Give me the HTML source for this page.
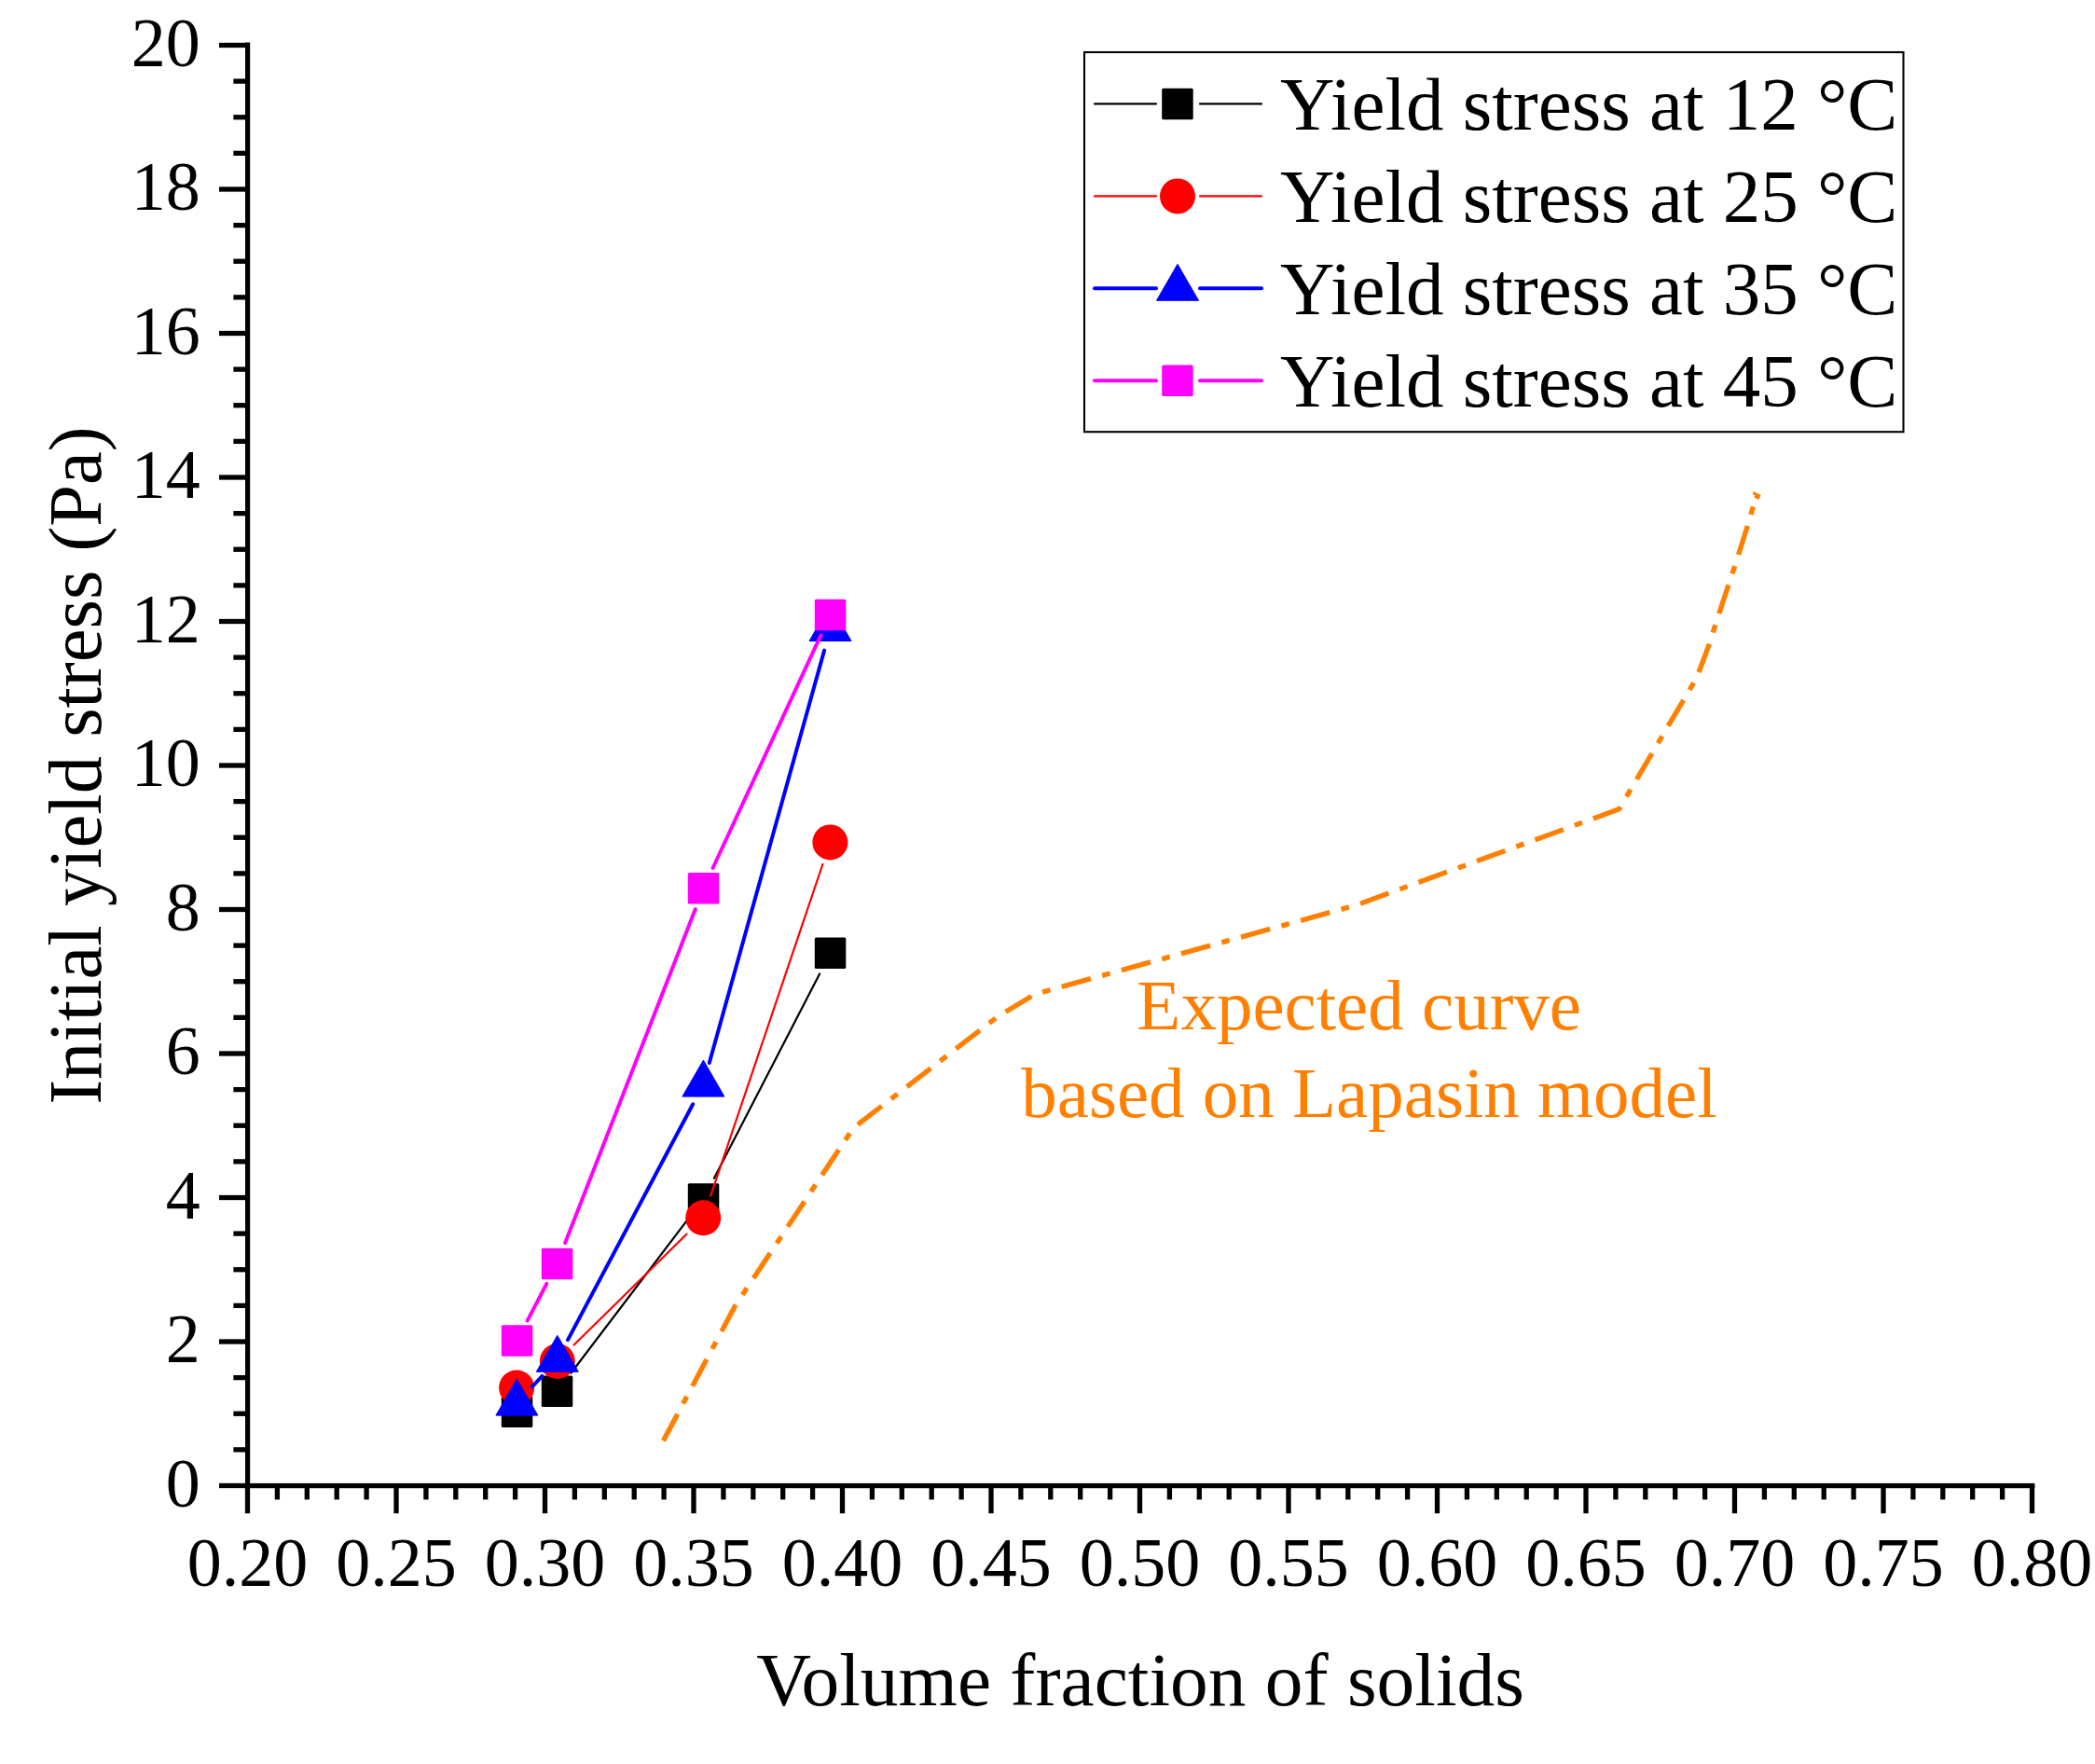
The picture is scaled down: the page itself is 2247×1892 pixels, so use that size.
<!DOCTYPE html>
<html><head><meta charset="utf-8"><title>Initial yield stress vs volume fraction</title><style>
html,body{margin:0;padding:0;background:#fff;width:2247px;height:1892px;overflow:hidden}
svg{display:block}
text{font-family:"Liberation Serif","Times New Roman",serif}
</style></head><body>
<svg width="2247" height="1892" viewBox="0 0 2247 1892">
<rect width="2247" height="1892" fill="#fff"/>
<path d="M711.2 1545.8 L788.3 1400.9 L915.0 1210.1 L1070.0 1090.5 L1110.0 1066.3 L1454.0 971.0 L1736.5 867.9 L1820.0 726.6 L1832.8 692.2 L1843.2 659.8 L1853.4 629.1 L1864.2 596.2 L1873.9 565.5 L1880.5 543.0 L1882.5 531.0 L1887.5 533.5" fill="none" stroke="#FF8000" stroke-width="5.4" stroke-dasharray="32.4 12.7 8.7 12.7" stroke-dashoffset="-0.5" stroke-linejoin="miter"/>
<text x="1457.7" y="1103.9" font-size="77" fill="#FF8000" text-anchor="middle">Expected curve</text>
<text x="1468.4" y="1198.2" font-size="77" fill="#FF8000" text-anchor="middle">based on Lapasin model</text>
<g stroke="#000000" stroke-width="2.2" stroke-linecap="round"><line x1="612.6" y1="1472.5" x2="739.4" y2="1305.7"/><line x1="765.9" y1="1263.8" x2="879.1" y2="1044.5"/></g>
<rect x="537.8" y="1497.5" width="33.5" height="33.5" rx="1.5" fill="#000000"/><rect x="580.8" y="1475.5" width="33.5" height="33.5" rx="1.5" fill="#000000"/><rect x="737.8" y="1269.2" width="33.5" height="33.5" rx="1.5" fill="#000000"/><rect x="873.8" y="1005.6" width="33.5" height="33.5" rx="1.5" fill="#000000"/>
<g stroke="#FF0000" stroke-width="2.2" stroke-linecap="round"><line x1="615.6" y1="1442.5" x2="736.4" y2="1323.7"/><line x1="762.2" y1="1282.6" x2="882.4" y2="927.0"/></g>
<circle cx="554.1" cy="1488.5" r="19" fill="#FF0000"/><circle cx="597.8" cy="1460.0" r="19" fill="#FF0000"/><circle cx="754.2" cy="1306.2" r="19" fill="#FF0000"/><circle cx="890.4" cy="903.4" r="19" fill="#FF0000"/>
<g stroke="#0000FF" stroke-width="4.0" stroke-linecap="round"><line x1="570.7" y1="1487.5" x2="581.5" y2="1475.9"/><line x1="609.0" y1="1437.1" x2="743.2" y2="1184.3"/><line x1="760.8" y1="1140.0" x2="884.1" y2="697.6"/></g>
<polygon points="554.4,1479.1 576.9,1518.1 531.9,1518.1" fill="#0000FF" stroke="#0000FF" stroke-width="1" stroke-linejoin="round"/><polygon points="597.8,1432.3 620.3,1471.3 575.3,1471.3" fill="#0000FF" stroke="#0000FF" stroke-width="1" stroke-linejoin="round"/><polygon points="754.4,1137.1 776.9,1176.1 731.9,1176.1" fill="#0000FF" stroke="#0000FF" stroke-width="1" stroke-linejoin="round"/><polygon points="890.5,648.5 913.0,687.5 868.0,687.5" fill="#0000FF" stroke="#0000FF" stroke-width="1" stroke-linejoin="round"/>
<g stroke="#FF00FF" stroke-width="4.0" stroke-linecap="round"><line x1="565.6" y1="1416.6" x2="586.4" y2="1376.8"/><line x1="606.2" y1="1333.1" x2="745.8" y2="975.2"/><line x1="764.6" y1="931.0" x2="880.4" y2="681.3"/></g>
<rect x="537.8" y="1421.2" width="33.5" height="33.5" rx="1.5" fill="#FF00FF"/><rect x="580.8" y="1338.8" width="33.5" height="33.5" rx="1.5" fill="#FF00FF"/><rect x="737.8" y="936.0" width="33.5" height="33.5" rx="1.5" fill="#FF00FF"/><rect x="873.8" y="642.8" width="33.5" height="33.5" rx="1.5" fill="#FF00FF"/>
<g fill="#000">
<rect x="263" y="45.5" width="5.2" height="1550.7"/>
<rect x="263" y="1590.9" width="1919.4" height="5.3"/>
<rect x="235" y="1590.85" width="30" height="5.3"/><rect x="250.4" y="1552.22" width="15" height="5.3"/><rect x="250.4" y="1513.60" width="15" height="5.3"/><rect x="250.4" y="1474.97" width="15" height="5.3"/><rect x="235" y="1436.35" width="30" height="5.3"/><rect x="250.4" y="1397.72" width="15" height="5.3"/><rect x="250.4" y="1359.10" width="15" height="5.3"/><rect x="250.4" y="1320.47" width="15" height="5.3"/><rect x="235" y="1281.85" width="30" height="5.3"/><rect x="250.4" y="1243.22" width="15" height="5.3"/><rect x="250.4" y="1204.60" width="15" height="5.3"/><rect x="250.4" y="1165.97" width="15" height="5.3"/><rect x="235" y="1127.35" width="30" height="5.3"/><rect x="250.4" y="1088.72" width="15" height="5.3"/><rect x="250.4" y="1050.10" width="15" height="5.3"/><rect x="250.4" y="1011.48" width="15" height="5.3"/><rect x="235" y="972.85" width="30" height="5.3"/><rect x="250.4" y="934.23" width="15" height="5.3"/><rect x="250.4" y="895.60" width="15" height="5.3"/><rect x="250.4" y="856.98" width="15" height="5.3"/><rect x="235" y="818.35" width="30" height="5.3"/><rect x="250.4" y="779.73" width="15" height="5.3"/><rect x="250.4" y="741.10" width="15" height="5.3"/><rect x="250.4" y="702.48" width="15" height="5.3"/><rect x="235" y="663.85" width="30" height="5.3"/><rect x="250.4" y="625.23" width="15" height="5.3"/><rect x="250.4" y="586.60" width="15" height="5.3"/><rect x="250.4" y="547.98" width="15" height="5.3"/><rect x="235" y="509.35" width="30" height="5.3"/><rect x="250.4" y="470.73" width="15" height="5.3"/><rect x="250.4" y="432.10" width="15" height="5.3"/><rect x="250.4" y="393.48" width="15" height="5.3"/><rect x="235" y="354.85" width="30" height="5.3"/><rect x="250.4" y="316.23" width="15" height="5.3"/><rect x="250.4" y="277.60" width="15" height="5.3"/><rect x="250.4" y="238.97" width="15" height="5.3"/><rect x="235" y="200.35" width="30" height="5.3"/><rect x="250.4" y="161.72" width="15" height="5.3"/><rect x="250.4" y="123.10" width="15" height="5.3"/><rect x="250.4" y="84.47" width="15" height="5.3"/><rect x="235" y="45.85" width="30" height="5.3"/>
<rect x="262.85" y="1593" width="5.3" height="30.2"/><rect x="294.75" y="1593" width="5.3" height="15.4"/><rect x="326.65" y="1593" width="5.3" height="15.4"/><rect x="358.55" y="1593" width="5.3" height="15.4"/><rect x="390.45" y="1593" width="5.3" height="15.4"/><rect x="422.35" y="1593" width="5.3" height="30.2"/><rect x="454.25" y="1593" width="5.3" height="15.4"/><rect x="486.15" y="1593" width="5.3" height="15.4"/><rect x="518.05" y="1593" width="5.3" height="15.4"/><rect x="549.95" y="1593" width="5.3" height="15.4"/><rect x="581.85" y="1593" width="5.3" height="30.2"/><rect x="613.75" y="1593" width="5.3" height="15.4"/><rect x="645.65" y="1593" width="5.3" height="15.4"/><rect x="677.55" y="1593" width="5.3" height="15.4"/><rect x="709.45" y="1593" width="5.3" height="15.4"/><rect x="741.35" y="1593" width="5.3" height="30.2"/><rect x="773.25" y="1593" width="5.3" height="15.4"/><rect x="805.15" y="1593" width="5.3" height="15.4"/><rect x="837.05" y="1593" width="5.3" height="15.4"/><rect x="868.95" y="1593" width="5.3" height="15.4"/><rect x="900.85" y="1593" width="5.3" height="30.2"/><rect x="932.75" y="1593" width="5.3" height="15.4"/><rect x="964.65" y="1593" width="5.3" height="15.4"/><rect x="996.55" y="1593" width="5.3" height="15.4"/><rect x="1028.45" y="1593" width="5.3" height="15.4"/><rect x="1060.35" y="1593" width="5.3" height="30.2"/><rect x="1092.25" y="1593" width="5.3" height="15.4"/><rect x="1124.15" y="1593" width="5.3" height="15.4"/><rect x="1156.05" y="1593" width="5.3" height="15.4"/><rect x="1187.95" y="1593" width="5.3" height="15.4"/><rect x="1219.85" y="1593" width="5.3" height="30.2"/><rect x="1251.75" y="1593" width="5.3" height="15.4"/><rect x="1283.65" y="1593" width="5.3" height="15.4"/><rect x="1315.55" y="1593" width="5.3" height="15.4"/><rect x="1347.45" y="1593" width="5.3" height="15.4"/><rect x="1379.35" y="1593" width="5.3" height="30.2"/><rect x="1411.25" y="1593" width="5.3" height="15.4"/><rect x="1443.15" y="1593" width="5.3" height="15.4"/><rect x="1475.05" y="1593" width="5.3" height="15.4"/><rect x="1506.95" y="1593" width="5.3" height="15.4"/><rect x="1538.85" y="1593" width="5.3" height="30.2"/><rect x="1570.75" y="1593" width="5.3" height="15.4"/><rect x="1602.65" y="1593" width="5.3" height="15.4"/><rect x="1634.55" y="1593" width="5.3" height="15.4"/><rect x="1666.45" y="1593" width="5.3" height="15.4"/><rect x="1698.35" y="1593" width="5.3" height="30.2"/><rect x="1730.25" y="1593" width="5.3" height="15.4"/><rect x="1762.15" y="1593" width="5.3" height="15.4"/><rect x="1794.05" y="1593" width="5.3" height="15.4"/><rect x="1825.95" y="1593" width="5.3" height="15.4"/><rect x="1857.85" y="1593" width="5.3" height="30.2"/><rect x="1889.75" y="1593" width="5.3" height="15.4"/><rect x="1921.65" y="1593" width="5.3" height="15.4"/><rect x="1953.55" y="1593" width="5.3" height="15.4"/><rect x="1985.45" y="1593" width="5.3" height="15.4"/><rect x="2017.35" y="1593" width="5.3" height="30.2"/><rect x="2049.25" y="1593" width="5.3" height="15.4"/><rect x="2081.15" y="1593" width="5.3" height="15.4"/><rect x="2113.05" y="1593" width="5.3" height="15.4"/><rect x="2144.95" y="1593" width="5.3" height="15.4"/><rect x="2176.85" y="1593" width="5.3" height="30.2"/>
</g>
<g font-size="74" fill="#000">
<text x="214.7" y="1615.5" text-anchor="end">0</text><text x="214.7" y="1461.0" text-anchor="end">2</text><text x="214.7" y="1306.5" text-anchor="end">4</text><text x="214.7" y="1152.0" text-anchor="end">6</text><text x="214.7" y="997.5" text-anchor="end">8</text><text x="214.7" y="843.0" text-anchor="end">10</text><text x="214.7" y="688.5" text-anchor="end">12</text><text x="214.7" y="534.0" text-anchor="end">14</text><text x="214.7" y="379.5" text-anchor="end">16</text><text x="214.7" y="225.0" text-anchor="end">18</text><text x="214.7" y="70.5" text-anchor="end">20</text>
<text x="265.5" y="1701" text-anchor="middle">0.20</text><text x="425.0" y="1701" text-anchor="middle">0.25</text><text x="584.5" y="1701" text-anchor="middle">0.30</text><text x="744.0" y="1701" text-anchor="middle">0.35</text><text x="903.5" y="1701" text-anchor="middle">0.40</text><text x="1063.0" y="1701" text-anchor="middle">0.45</text><text x="1222.5" y="1701" text-anchor="middle">0.50</text><text x="1382.0" y="1701" text-anchor="middle">0.55</text><text x="1541.5" y="1701" text-anchor="middle">0.60</text><text x="1701.0" y="1701" text-anchor="middle">0.65</text><text x="1860.5" y="1701" text-anchor="middle">0.70</text><text x="2020.0" y="1701" text-anchor="middle">0.75</text><text x="2179.5" y="1701" text-anchor="middle">0.80</text>
</g>
<text x="1223.1" y="1828.7" font-size="81.4" text-anchor="middle">Volume fraction of solids</text>
<text transform="translate(108 821) rotate(-90)" x="0" y="0" font-size="80.6" text-anchor="middle">Initial yield stress (Pa)</text>
<rect x="1163" y="56" width="878.5" height="407.2" fill="none" stroke="#000" stroke-width="2.1"/>
<g stroke="#000000" stroke-width="2.2" stroke-linecap="round"><line x1="1174" y1="111.4" x2="1240" y2="111.4"/><line x1="1287" y1="111.4" x2="1353" y2="111.4"/></g><rect x="1246.2" y="94.7" width="33.5" height="33.5" rx="1.5" fill="#000000"/><text x="1373" y="139.0" font-size="81" fill="#000">Yield stress at 12 °C</text>
<g stroke="#FF0000" stroke-width="2.2" stroke-linecap="round"><line x1="1174" y1="210.4" x2="1240" y2="210.4"/><line x1="1287" y1="210.4" x2="1353" y2="210.4"/></g><circle cx="1263.0" cy="210.4" r="19" fill="#FF0000"/><text x="1373" y="238.0" font-size="81" fill="#000">Yield stress at 25 °C</text>
<g stroke="#0000FF" stroke-width="4.0" stroke-linecap="round"><line x1="1174" y1="309.3" x2="1240" y2="309.3"/><line x1="1287" y1="309.3" x2="1353" y2="309.3"/></g><polygon points="1263.0,283.3 1285.5,322.3 1240.5,322.3" fill="#0000FF" stroke="#0000FF" stroke-width="1" stroke-linejoin="round"/><text x="1373" y="336.9" font-size="81" fill="#000">Yield stress at 35 °C</text>
<g stroke="#FF00FF" stroke-width="4.0" stroke-linecap="round"><line x1="1174" y1="408.2" x2="1240" y2="408.2"/><line x1="1287" y1="408.2" x2="1353" y2="408.2"/></g><rect x="1246.2" y="391.5" width="33.5" height="33.5" rx="1.5" fill="#FF00FF"/><text x="1373" y="435.9" font-size="81" fill="#000">Yield stress at 45 °C</text>
</svg>
</body></html>
